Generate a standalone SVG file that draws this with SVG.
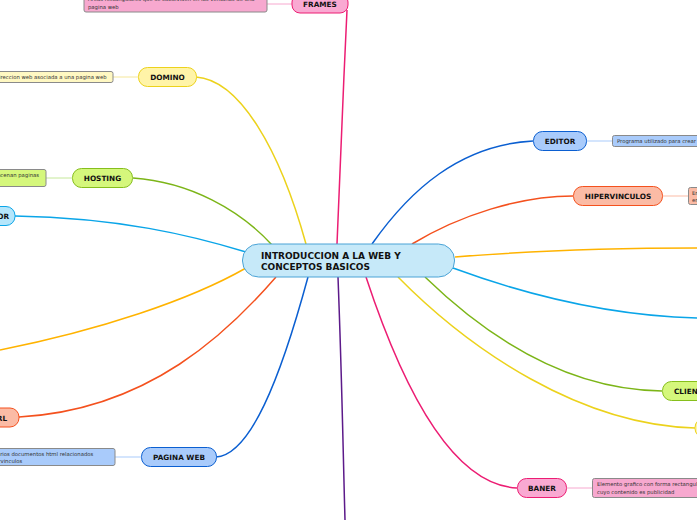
<svg xmlns="http://www.w3.org/2000/svg" width="697" height="520" viewBox="0 0 697 520">
<style>
.n text{font-family:"DejaVu Sans",sans-serif;font-weight:bold;font-size:7.3px;fill:#111;text-anchor:middle}
.note text{font-family:"DejaVu Sans",sans-serif;font-size:5.3px;fill:#333}
.note rect{stroke:#8a8a8a;stroke-width:1}
.c path{fill:none;stroke-width:1.5}
.l path{fill:none;stroke-width:1}
</style>
<rect width="697" height="520" fill="#ffffff"/>
<g class="c">
<path d="M196,77 C240,80 280,150 306,244" stroke="#ecd21c"/>
<path d="M133,178 C190,182 240,210 272,245" stroke="#7cb518"/>
<path d="M15,216 C120,218 190,235 246,252" stroke="#0aa5e8"/>
<path d="M0,350 C100,330 190,300 246,268" stroke="#ffb300"/>
<path d="M19,417 C150,410 230,330 276,277" stroke="#f4511e"/>
<path d="M216,457 C250,455 280,380 308,277" stroke="#0b5fd1"/>
<path d="M338,277 C342,380 343,450 345,520" stroke="#5c1a8a"/>
<path d="M347,10 C343,90 340,180 337,244" stroke="#ec1d73"/>
<path d="M372,244 C410,190 460,145 533,141" stroke="#0b5fd1"/>
<path d="M412,244 C460,215 520,196 573,196" stroke="#f4511e"/>
<path d="M455,257 C540,250 620,248 697,248" stroke="#ffb300"/>
<path d="M453,268 C540,300 620,316 697,318" stroke="#0aa5e8"/>
<path d="M425,277 C490,340 570,390 662,391" stroke="#7cb518"/>
<path d="M398,277 C470,350 580,425 695,428" stroke="#ecd21c"/>
<path d="M366,277 C400,380 450,485 517,488" stroke="#ec1d73"/>
</g>
<g class="l">
<path d="M267,4 H292" stroke="#f7a8cf"/>
<path d="M113,77 H138" stroke="#f5e79a"/>
<path d="M46,178 H72" stroke="#c5e89a"/>
<path d="M115,457 H141" stroke="#a9cbfb"/>
<path d="M586,141 H612" stroke="#a9cbfb"/>
<path d="M662,196 H688" stroke="#fbbba5"/>
<path d="M567,488 H592" stroke="#f7a8cf"/>
</g>
<g id="center" class="n">
<rect x="242.5" y="244" width="212" height="33" rx="16" fill="#c6e9f9" stroke="#4aa3d6" stroke-width="1"/>
<text x="261" y="259" style="text-anchor:start;font-size:9px">INTRODUCCION A LA WEB Y</text>
<text x="261" y="270" style="text-anchor:start;font-size:9px">CONCEPTOS BASICOS</text>
</g>
<g id="frames" class="n">
<rect x="292" y="-6" width="56" height="19" rx="8" fill="#f9a9d2" stroke="#ec1d73"/>
<text x="320" y="6.5">FRAMES</text>
</g>
<g id="frames-note" class="note">
<rect x="84" y="-8" width="183" height="20" rx="2" fill="#f7a8cf"/>
<text x="88" y="1">Areas rectangulares que se subdividen en las ventanas de una</text>
<text x="88" y="8.5">pagina web</text>
</g>
<g id="domino" class="n">
<rect x="138.5" y="67.5" width="58" height="19" rx="9" fill="#fff4a8" stroke="#ecd21c"/>
<text x="167.5" y="80">DOMINO</text>
</g>
<g id="domino-note" class="note">
<rect x="-6" y="71.5" width="119" height="11" rx="2" fill="#fff8c2"/>
<text x="-5" y="79">Direccion web asociada a una pagina web</text>
</g>
<g id="hosting" class="n">
<rect x="72.5" y="168.5" width="60" height="19" rx="9" fill="#d5f77c" stroke="#86bf1c"/>
<text x="102.5" y="181">HOSTING</text>
</g>
<g id="hosting-note" class="note">
<rect x="-6" y="169.5" width="52" height="17" rx="2" fill="#d5f77c"/>
<text x="39" y="177" style="text-anchor:end">se almacenan paginas</text>
</g>
<g id="servidor" class="n">
<rect x="-40" y="206.5" width="55" height="19" rx="9" fill="#b5e6fb" stroke="#0aa5e8"/>
<text x="-12" y="219">SERVIDOR</text>
</g>
<g id="url" class="n">
<rect x="-25" y="408" width="44" height="19" rx="9" fill="#fbbba5" stroke="#f4511e"/>
<text x="-1" y="420.5">URL</text>
</g>
<g id="pagina" class="n">
<rect x="141.5" y="447.5" width="75" height="19" rx="9" fill="#a9cbfb" stroke="#0b5fd1"/>
<text x="179" y="460">PAGINA WEB</text>
</g>
<g id="pagina-note" class="note">
<rect x="-6" y="448.5" width="121" height="17" rx="2" fill="#a9cbfb"/>
<text x="-40" y="456">Conjunto de varios documentos html relacionados</text>
<text x="-40" y="463">mediante hipervinculos</text>
</g>
<g id="editor" class="n">
<rect x="533.5" y="131.5" width="53" height="19" rx="9" fill="#a9cbfb" stroke="#0b5fd1"/>
<text x="560" y="144">EDITOR</text>
</g>
<g id="editor-note" class="note">
<rect x="612.5" y="135.5" width="100" height="11" rx="2" fill="#a9cbfb"/>
<text x="617" y="143">Programa utilizado para crear paginas web</text>
</g>
<g id="hiper" class="n">
<rect x="573.5" y="186.5" width="89" height="19" rx="9" fill="#fbbba5" stroke="#f4511e"/>
<text x="618" y="199">HIPERVINCULOS</text>
</g>
<g id="hiper-note" class="note">
<rect x="688.5" y="187.5" width="30" height="17" rx="2" fill="#fbbba5"/>
<text x="692" y="195">Enlace</text>
<text x="692" y="202">entre</text>
</g>
<g id="cliente" class="n">
<rect x="662.5" y="381.5" width="60" height="19" rx="9" fill="#d5f77c" stroke="#86bf1c"/>
<text x="674" y="394" style="text-anchor:start">CLIENTE</text>
</g>
<g id="yellow-right" class="n">
<rect x="695" y="418.5" width="60" height="19" rx="9" fill="#fff4a8" stroke="#ecd21c"/>
</g>
<g id="baner" class="n">
<rect x="517.5" y="478.5" width="49" height="19" rx="9" fill="#f9a9d2" stroke="#ec1d73"/>
<text x="542" y="491">BANER</text>
</g>
<g id="baner-note" class="note">
<rect x="592.5" y="478.5" width="120" height="19" rx="2" fill="#f7a8cf"/>
<text x="597" y="486">Elemento grafico con forma rectangular</text>
<text x="597" y="493.5">cuyo contenido es publicidad</text>
</g>
</svg>
